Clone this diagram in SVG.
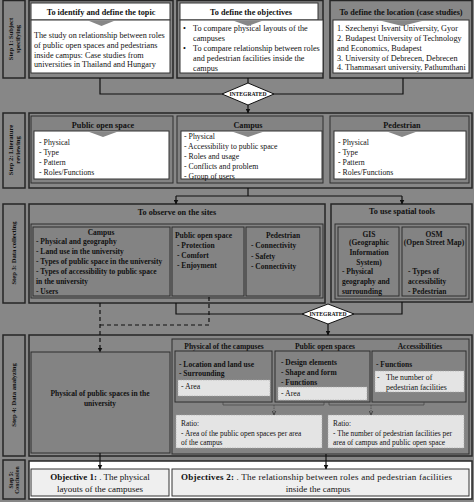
<svg xmlns="http://www.w3.org/2000/svg" width="474" height="502" viewBox="0 0 474 502">
<defs>
<marker id="ah" viewBox="0 0 10 10" refX="9" refY="5" markerWidth="5" markerHeight="5" orient="auto" markerUnits="userSpaceOnUse"><path d="M0,0 L10,5 L0,10 z" fill="#111"/></marker>
<marker id="ahs" viewBox="0 0 10 10" refX="9" refY="5" markerWidth="5" markerHeight="5" orient="auto" markerUnits="userSpaceOnUse"><path d="M0,1 L9,5 L0,9" fill="none" stroke="#333" stroke-width="1.5"/></marker>
</defs>
<style>
.bg{fill:#878787}
.ob{fill:#878787;stroke:#262626;stroke-width:1.5}
.pn{fill:#838383;stroke:#2e2e2e;stroke-width:1}
.wb{fill:#ffffff;stroke:#333;stroke-width:1}
.lb{fill:#e4e4e4;stroke:#aaa;stroke-width:0.6;stroke-dasharray:1.5 1}
.ln{fill:none;stroke:#111;stroke-width:1.2}
.dl{fill:none;stroke:#111;stroke-width:1.2;stroke-dasharray:4 3}
.tl{fill:none;stroke:#444;stroke-width:0.7}
.tri{fill:#878787}
text{font-family:"Liberation Serif","Times New Roman",serif;fill:#111}
.h{font-weight:bold;font-size:8.2px}
.t{font-size:8.2px}
.s{font-size:7.8px}
.b{font-weight:bold;font-size:7.5px}
.r{font-size:7.4px}
.st{font-weight:bold;font-size:6.6px}
.c{text-anchor:middle}
.o{font-size:9px}
.ig{font-weight:bold;font-size:5.6px;text-anchor:middle}
</style>
<rect class="bg" x="0" y="0" width="474" height="502"/>

<!-- Step labels -->
<g id="step1-label"><rect class="ob" x="3" y="0.5" width="22" height="77.5"/><text class="st c" transform="translate(14,39) rotate(-90)"><tspan x="0" y="-1.5">Step 1: Subject</tspan><tspan x="0" y="6.2">specifying</tspan></text></g>
<g id="step2-label"><rect class="ob" x="3" y="113" width="22" height="75"/><text class="st c" transform="translate(14,150) rotate(-90)"><tspan x="0" y="-1.5">Step 2: Literature</tspan><tspan x="0" y="6.2">reviewing</tspan></text></g>
<g id="step3-label"><rect class="ob" x="3" y="204" width="22" height="99"/><text class="st c" transform="translate(14,253) rotate(-90)"><tspan x="0" y="2.2">Step 3: Data collecting</tspan></text></g>
<g id="step4-label"><rect class="ob" x="3" y="335" width="22" height="121"/><text class="st c" transform="translate(14,395) rotate(-90)"><tspan x="0" y="2.2">Step 4: Data analyzing</tspan></text></g>
<g id="step5-label"><rect class="ob" x="3" y="460" width="22" height="39" fill="#7a7a7a"/><text class="c" style="font-weight:bold;font-size:5.8px" transform="translate(14,480) rotate(-90)"><tspan x="0" y="-1.5">Step 5:</tspan><tspan x="0" y="5.2">Conclusion</tspan></text></g>

<!-- Step 1 -->
<g id="topic">
<rect class="ob" x="29" y="0.5" width="144" height="77.5"/>
<rect class="wb" x="31" y="3" width="139" height="17"/>
<rect class="wb" x="31" y="20" width="139" height="53"/>
<polygon class="tri" points="88,20.5 115,20.5 101.5,26"/>
<text class="h c" x="101" y="14.8">To identify and define the topic</text>
<text class="t" x="34"><tspan x="34" y="38">The study on relationship between roles</tspan><tspan x="34" y="48">of public open spaces and pedestrians</tspan><tspan x="34" y="58">inside campus: Case studies from</tspan><tspan x="34" y="67">universities  in Thailand  and Hungary</tspan></text>
</g>
<g id="objectives">
<rect class="ob" x="177" y="0.5" width="146" height="77.5"/>
<rect class="wb" x="180" y="3" width="138" height="17"/>
<rect class="wb" x="180" y="20" width="143" height="53"/>
<polygon class="tri" points="233,20.5 263,20.5 248,26"/>
<text class="h c" x="251" y="14.8">To define the objectives</text>
<text class="t"><tspan x="183" y="31">•</tspan><tspan x="193" y="31">To compare physical layouts of the</tspan><tspan x="193" y="41">campuses</tspan><tspan x="183" y="51">•</tspan><tspan x="193" y="51">To compare relationship between roles</tspan><tspan x="193" y="61">and pedestrian facilities  inside the</tspan><tspan x="193" y="71">campus</tspan></text>
</g>
<g id="location">
<rect class="ob" x="330" y="0.5" width="142" height="77.5"/>
<rect class="wb" x="333" y="20" width="136" height="53"/>
<polygon class="tri" points="380,20.5 424,20.5 402,26"/>
<text class="h c" x="401" y="14.8">To define the location (case studies)</text>
<text class="t"><tspan x="337" y="31">1. Szechenyi Isvant University,  Gyor</tspan><tspan x="337" y="41">2. Budapest University  of Technology</tspan><tspan x="337" y="51">and Economics, Budapest</tspan><tspan x="337" y="61">3. University  of Debrecen,  Debrecen</tspan><tspan x="337" y="70">4. Thammasart university, Pathumthani</tspan></text>
</g>

<!-- Step 2 -->
<g id="literature">
<rect class="ob" x="29" y="113" width="443" height="75"/>
</g>
<g id="lit-pos">
<rect class="pn" x="31" y="116" width="142" height="67"/>
<rect class="wb" x="34" y="131" width="135" height="48"/>
<polygon class="tri" points="88,131.5 118,131.5 103,137"/>
<text class="h c" x="103" y="127.8">Public open space</text>
<text class="s"><tspan x="39" y="145">- Physical</tspan><tspan x="39" y="155">- Type</tspan><tspan x="39" y="165">- Pattern</tspan><tspan x="39" y="175">- Roles/Functions</tspan></text>
</g>
<g id="lit-campus">
<rect class="pn" x="177" y="116" width="146" height="67"/>
<rect class="wb" x="181" y="131" width="141" height="48"/>
<polygon class="tri" points="232,131.5 264,131.5 248,137"/>
<text class="h c" x="248" y="127.8">Campus</text>
<text class="s"><tspan x="184" y="139">- Physical</tspan><tspan x="184" y="149">- Accessibility to public space</tspan><tspan x="184" y="159">- Roles and usage</tspan><tspan x="184" y="169">- Conflicts and problem</tspan><tspan x="184" y="179">- Group of users</tspan></text>
</g>
<g id="lit-ped">
<rect class="pn" x="330" y="116" width="139" height="67"/>
<rect class="wb" x="334" y="131" width="132" height="48"/>
<polygon class="tri" points="387,131.5 417,131.5 402,137"/>
<text class="h c" x="402" y="127.8">Pedestrian</text>
<text class="s"><tspan x="338" y="145">- Physical</tspan><tspan x="338" y="155">- Type</tspan><tspan x="338" y="165">- Pattern</tspan><tspan x="338" y="175">- Roles/Functions</tspan></text>
</g>

<!-- Step 3 -->
<g id="observe">
<rect class="ob" x="29" y="204" width="296" height="99"/>
<text class="h c" x="177" y="215">To observe on the sites</text>
<rect class="pn" x="31" y="224" width="292" height="74"/>
</g>
<g id="obs-campus">
<rect class="pn" x="33" y="227" width="137" height="69"/>
<text class="b c" x="101" y="234.8">Campus</text>
<text class="b"><tspan x="36" y="243.8">- Physical and geography</tspan><tspan x="36" y="253.8">- Land use in the university</tspan><tspan x="36" y="263.8">- Types of public space in the university</tspan><tspan x="36" y="273.8">- Types of accessibility  to public space</tspan><tspan x="36" y="283.8">in the university</tspan><tspan x="36" y="293.8">- Users</tspan></text>
</g>
<g id="obs-pos">
<rect class="pn" x="172" y="227" width="72" height="69"/>
<text class="b" x="175" y="237.8">Public open space</text>
<text class="b"><tspan x="177" y="247.8">- Protection</tspan><tspan x="177" y="257.8">- Comfort</tspan><tspan x="177" y="267.8">- Enjoyment</tspan></text>
</g>
<g id="obs-ped">
<rect class="pn" x="246" y="227" width="74" height="69"/>
<text class="b c" x="283" y="237.8">Pedestrian</text>
<text class="b"><tspan x="251" y="247.8">- Connectivity</tspan><tspan x="251" y="258.8">- Safety</tspan><tspan x="251" y="268.8">-  Connectivity</tspan></text>
</g>
<g id="spatial">
<rect class="ob" x="331" y="204" width="141" height="98"/>
<text class="h c" x="402" y="214">To use spatial tools</text>
<rect class="pn" x="335" y="224" width="134" height="75"/>
</g>
<g id="gis">
<rect class="pn" x="338" y="227" width="61" height="69"/>
<text class="b c"><tspan x="369" y="236.8">GIS</tspan><tspan x="369" y="244.8">(Geographic</tspan><tspan x="369" y="254.8">Information</tspan><tspan x="369" y="264.8">System)</tspan></text>
<text class="b"><tspan x="342" y="273.8">- Physical</tspan><tspan x="342" y="283.8">geography and</tspan><tspan x="342" y="293.8">surrounding</tspan></text>
</g>
<g id="osm">
<rect class="pn" x="402" y="227" width="64" height="69"/>
<text class="b c"><tspan x="434" y="236.8">OSM</tspan><tspan x="434" y="244.8">(Open Street Map)</tspan></text>
<text class="b"><tspan x="408" y="273.8">- Types of</tspan><tspan x="408" y="283.8">accessibility</tspan><tspan x="408" y="293.8">- Pedestrian</tspan></text>
</g>

<!-- Step 4 -->
<g id="analyzing">
<rect class="ob" x="29" y="335" width="443" height="121"/>
</g>
<g id="phys-public">
<rect class="pn" x="31" y="352" width="139" height="101"/>
<text class="b c"><tspan x="100" y="395.8">Physical of public spaces in the</tspan><tspan x="100" y="405.8">university</tspan></text>
</g>
<g id="analysis-panel">
<rect class="pn" x="172" y="339" width="297" height="115"/>
<text class="b c" x="224" y="348.8">Physical of the campuses</text>
<text class="b c" x="325" y="348.8">Public open spaces</text>
<text class="b c" x="420" y="348.8">Accessibilities</text>
</g>
<g id="an-campus">
<rect class="pn" x="175" y="351" width="97" height="51"/>
<text class="b"><tspan x="179" y="366.8">- Location and land use</tspan><tspan x="179" y="376.3">- Surrounding</tspan></text>
<rect class="lb" x="178" y="380" width="92" height="16"/>
<text class="s" x="181" y="388.8">- Area</text>
</g>
<g id="an-pos">
<rect class="pn" x="275" y="351" width="95" height="51"/>
<text class="b"><tspan x="281" y="364.8">- Design elements</tspan><tspan x="281" y="374.8">- Shape and form</tspan><tspan x="281" y="384.8">- Functions</tspan></text>
<rect class="lb" x="278" y="387" width="89" height="13"/>
<text class="s" x="281" y="395.8">- Area</text>
</g>
<g id="an-acc">
<rect class="pn" x="372" y="351" width="94" height="51"/>
<text class="b" x="376" y="366.8">- Functions</text>
<rect class="lb" x="375" y="371" width="89" height="21"/>
<text class="s"><tspan x="377" y="379.8">-</tspan><tspan x="386" y="379.8">The number of</tspan><tspan x="386" y="389.8">pedestrian facilities</tspan></text>
</g>
<g id="ratio1">
<rect class="lb" x="176" y="415" width="146" height="33"/>
<text class="r"><tspan x="181" y="425.5">Ratio:</tspan><tspan x="181" y="435.5">- Area of the public open spaces per area</tspan><tspan x="181" y="445">of the campus</tspan></text>
</g>
<g id="ratio2">
<rect class="lb" x="328" y="415" width="136" height="33"/>
<text class="r"><tspan x="333" y="425.5">Ratio:</tspan><tspan x="333" y="435.5">- The number of pedestrian facilities per</tspan><tspan x="333" y="445">area of campus and public open space</tspan></text>
</g>

<!-- Step 5 -->
<g id="conclusion">
<rect x="29" y="461" width="443" height="38" fill="#fff" stroke="#262626" stroke-width="1.5"/>
</g>
<g id="obj1">
<rect x="31" y="469" width="138" height="27" fill="#efefef" stroke="#333" stroke-width="1"/>
<text class="o c"><tspan x="100" y="480"><tspan font-weight="bold">Objective 1:</tspan> . The physical</tspan><tspan x="100" y="491.5">layouts  of the campuses</tspan></text>
</g>
<g id="obj2">
<rect x="172" y="469" width="297" height="27" fill="#efefef" stroke="#333" stroke-width="1"/>
<text class="o"><tspan x="181" y="480" textLength="271" lengthAdjust="spacing"><tspan font-weight="bold">Objectives 2:</tspan> . The relationship  between roles and pedestrian  facilities</tspan><tspan x="318" y="491.5" text-anchor="middle">inside the campus</tspan></text>
</g>

<!-- Connectors -->
<g id="connectors">
<polyline class="ln" points="100,78 100,94 223,94"/>
<polyline class="ln" points="403,78 403,94 273,94"/>
<line class="ln" x1="248" y1="78" x2="248" y2="83"/>
<line class="ln" x1="248" y1="105" x2="248" y2="113" marker-end="url(#ah)"/>
<line class="ln" x1="248" y1="188" x2="248" y2="196"/>
<line class="ln" x1="176" y1="196" x2="402" y2="196"/>
<line class="ln" x1="176" y1="196" x2="176" y2="204" marker-end="url(#ah)"/>
<line class="ln" x1="402" y1="196" x2="402" y2="204" marker-end="url(#ah)"/>
<polyline class="ln" points="176,303 176,314 303,314"/>
<polyline class="ln" points="402,302 402,314 353,314"/>
<line class="ln" x1="328" y1="324" x2="328" y2="335" marker-end="url(#ah)"/>
<line class="dl" x1="100" y1="303" x2="100" y2="352" marker-end="url(#ah)"/>
<polyline class="dl" points="100,325 209,325 209,296"/>
<polyline class="tl" points="223,402 223,405 324,405 324,402"/>
<polyline class="tl" points="329,402 329,405 424,405 424,402"/>
<line class="tl" x1="274" y1="405" x2="274" y2="415" stroke-dasharray="1.5 1" marker-end="url(#ahs)"/>
<line class="tl" x1="371" y1="405" x2="371" y2="415" stroke-dasharray="1.5 1" marker-end="url(#ahs)"/>
<line class="ln" x1="100" y1="453" x2="100" y2="469" marker-end="url(#ah)"/>
<line class="ln" x1="326" y1="454" x2="326" y2="469" marker-end="url(#ah)"/>
</g>
<g id="integrated-1">
<polygon points="248,83 274,94 248,105 222,94" fill="#fff" stroke="#111" stroke-width="1"/>
<text class="ig" x="248" y="96">INTEGRATED</text>
</g>
<g id="integrated-2">
<polygon points="328,304 354,314 328,324 302,314" fill="#fff" stroke="#111" stroke-width="1"/>
<text class="ig" x="328" y="316">INTEGRATED</text>
</g>
</svg>
